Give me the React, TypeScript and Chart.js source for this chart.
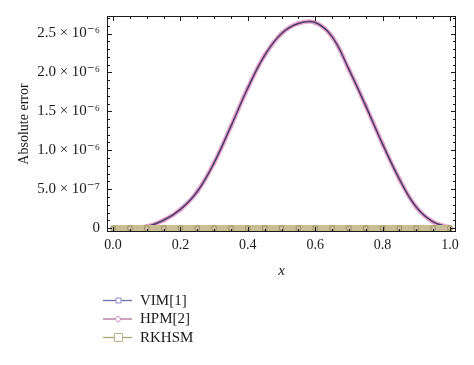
import React, { useEffect, useRef } from 'react';
import { Chart, registerables } from 'chart.js';

Chart.register(...registerables);

const xValues = [0, 0.05, 0.1, 0.15, 0.2, 0.25, 0.3, 0.35, 0.4, 0.45, 0.5, 0.55, 0.6, 0.65, 0.7, 0.75, 0.8, 0.85, 0.9, 0.95, 1.0];
const vimValues = [0, 0.002e-6, 0.02e-6, 0.1e-6, 0.24e-6, 0.47e-6, 0.84e-6, 1.31e-6, 1.8e-6, 2.22e-6, 2.5e-6, 2.63e-6, 2.64e-6, 2.46e-6, 2.04e-6, 1.57e-6, 1.08e-6, 0.63e-6, 0.27e-6, 0.08e-6, 0.01e-6];
const hpmValues = [0, 0.002e-6, 0.02e-6, 0.1e-6, 0.24e-6, 0.47e-6, 0.84e-6, 1.31e-6, 1.8e-6, 2.22e-6, 2.5e-6, 2.63e-6, 2.64e-6, 2.46e-6, 2.04e-6, 1.57e-6, 1.08e-6, 0.63e-6, 0.27e-6, 0.08e-6, 0.01e-6];
const rkhsmValues = [0, 0, 0, 0, 0, 0, 0, 0, 0, 0, 0, 0, 0, 0, 0, 0, 0, 0, 0, 0, 0];

const seriesLabels = ['VIM[1]', 'HPM[2]', 'RKHSM'];
const xTickValues = [0, 0.2, 0.4, 0.6, 0.8, 1.0];
const xTickLabels = ['0.0', '0.2', '0.4', '0.6', '0.8', '1.0'];
const yTickValues = [0, 5e-7, 1e-6, 1.5e-6, 2e-6, 2.5e-6];
const yTickLabels = ['0', '5.0 × 10⁻⁷', '1.0 × 10⁻⁶', '1.5 × 10⁻⁶', '2.0 × 10⁻⁶', '2.5 × 10⁻⁶'];
const xTitle = 'x';
const yTitle = 'Absolute error';

const FONT = '"Liberation Serif", "DejaVu Serif", serif';

const legendStyles = [
  { line: '#6f6fb0', marker: 'rect', markerColor: '#8f8fc8', size: 2.5 },
  { line: '#b0709c', marker: 'circle', markerColor: '#d090b8', size: 2.5 },
  { line: '#aaa474', marker: 'rect', markerColor: '#b8b084', size: 4 },
];

const framePlugin = {
  id: 'framePlugin',
  afterDraw(chart: any) {
    const { ctx, chartArea, scales } = chart;
    const { left, right, top, bottom } = chartArea;
    const x = scales.x;
    const y = scales.y;
    ctx.save();
    ctx.strokeStyle = '#1a1a1a';
    ctx.lineWidth = 1;
    ctx.strokeRect(left + 0.5, top + 0.5, right - left - 1, bottom - top - 1);
    ctx.beginPath();
    for (let i = 0; i <= 20; i++) {
      const v = i * 0.05;
      const len = i % 4 === 0 ? 5 : 3;
      const px = Math.round(x.getPixelForValue(v)) + 0.5;
      ctx.moveTo(px, bottom);
      ctx.lineTo(px, bottom - len);
      ctx.moveTo(px, top);
      ctx.lineTo(px, top + len);
    }
    for (let i = 0; i <= 27; i++) {
      const v = i * 1e-7;
      const len = i % 5 === 0 ? 5 : 3;
      const py = Math.round(y.getPixelForValue(v)) + 0.5;
      ctx.moveTo(left, py);
      ctx.lineTo(left + len, py);
      ctx.moveTo(right, py);
      ctx.lineTo(right - len, py);
    }
    ctx.stroke();

    // axis titles
    ctx.fillStyle = '#1a1a1a';
    ctx.font = `italic 15px ${FONT}`;
    ctx.textAlign = 'center';
    ctx.textBaseline = 'middle';
    ctx.fillText(xTitle, (left + right) / 2, 271);
    ctx.save();
    ctx.translate(24, (top + bottom) / 2);
    ctx.rotate(-Math.PI / 2);
    ctx.font = `14px ${FONT}`;
    ctx.fillText(yTitle, 0, 0);
    ctx.restore();

    // legend
    ctx.font = `15px ${FONT}`;
    ctx.textAlign = 'left';
    ctx.textBaseline = 'middle';
    chart.data.datasets.forEach((ds: any, i: number) => {
      const st = legendStyles[i];
      const ly = 300 + i * 18.5;
      ctx.strokeStyle = st.line;
      ctx.lineWidth = 1.3;
      ctx.beginPath();
      ctx.moveTo(103, ly + 0.5);
      ctx.lineTo(132, ly + 0.5);
      ctx.stroke();
      ctx.lineWidth = 1;
      ctx.strokeStyle = st.markerColor;
      ctx.fillStyle = '#ffffff';
      ctx.beginPath();
      if (st.marker === 'rect') {
        ctx.rect(118 - st.size + 0.5, ly - st.size + 0.5, st.size * 2, st.size * 2);
      } else {
        ctx.arc(118, ly + 0.5, st.size, 0, Math.PI * 2);
      }
      ctx.fill();
      ctx.stroke();
      ctx.fillStyle = '#1a1a1a';
      ctx.fillText(ds.label, 140, ly + 1);
    });
    ctx.restore();
  },
};

export default function App() {
  const canvasRef = useRef<HTMLCanvasElement | null>(null);

  useEffect(() => {
    if (!canvasRef.current) return;
    const toPts = (vals: number[]) => xValues.map((xv, i) => ({ x: xv, y: vals[i] }));
    const chart = new Chart(canvasRef.current, {
      type: 'line',
      data: {
        datasets: [
          {
            label: seriesLabels[0],
            data: toPts(vimValues),
            borderColor: '#4c3a6c',
            borderWidth: 1.6,
            pointRadius: 0,
            tension: 0.4,
            order: 1,
          },
          {
            label: seriesLabels[1],
            data: toPts(hpmValues),
            borderColor: 'rgba(228,155,196,0.85)',
            borderWidth: 4.5,
            pointStyle: 'circle',
            pointRadius: 2,
            pointBorderColor: 'rgba(215,130,180,0.5)',
            pointBackgroundColor: 'rgba(240,190,220,0.5)',
            pointBorderWidth: 1,
            tension: 0.4,
            order: 2,
          },
          {
            label: seriesLabels[2],
            data: toPts(rkhsmValues),
            borderColor: '#c9bd96',
            borderWidth: 6,
            pointStyle: 'rect',
            pointRadius: 3,
            pointBorderColor: '#9d9068',
            pointBackgroundColor: '#cfc39e',
            pointBorderWidth: 1,
            order: 0,
          },
        ],
      },
      options: {
        animation: false,
        responsive: false,
        devicePixelRatio: 1,
        layout: { padding: { left: 0, right: 18, top: 16, bottom: 0 } },
        plugins: {
          legend: { display: false },
          tooltip: { enabled: false },
        },
        scales: {
          x: {
            type: 'linear',
            min: -0.018,
            max: 1.018,
            afterBuildTicks: (s: any) => {
              s.ticks = xTickValues.map((v) => ({ value: v }));
            },
            afterFit: (s: any) => {
              s.height = 133;
            },
            ticks: {
              color: '#1a1a1a',
              padding: 5,
              maxRotation: 0,
              autoSkip: false,
              font: { family: FONT, size: 14 },
              callback: (v: any) => {
                const idx = xTickValues.findIndex((t) => Math.abs(t - Number(v)) < 1e-9);
                return idx >= 0 ? xTickLabels[idx] : '';
              },
            },
            grid: { display: false, drawTicks: false },
            border: { display: false },
          },
          y: {
            type: 'linear',
            min: -0.05e-6,
            max: 2.725e-6,
            afterBuildTicks: (s: any) => {
              s.ticks = yTickValues.map((v) => ({ value: v }));
            },
            afterFit: (s: any) => {
              s.width = 107;
            },
            ticks: {
              color: '#1a1a1a',
              padding: 7,
              autoSkip: false,
              font: { family: FONT, size: 15 },
              callback: (v: any) => {
                const idx = yTickValues.findIndex((t) => Math.abs(t - Number(v)) < 1e-12);
                return idx >= 0 ? yTickLabels[idx] : '';
              },
            },
            grid: { display: false, drawTicks: false },
            border: { display: false },
          },
        },
      },
      plugins: [framePlugin],
    } as any);
    return () => chart.destroy();
  }, []);

  return (
    <div style={{ position: 'fixed', left: 0, top: 0, width: 474, height: 365, background: '#fff' }}>
      <canvas ref={canvasRef} width={474} height={365} style={{ display: 'block' }} />
    </div>
  );
}
